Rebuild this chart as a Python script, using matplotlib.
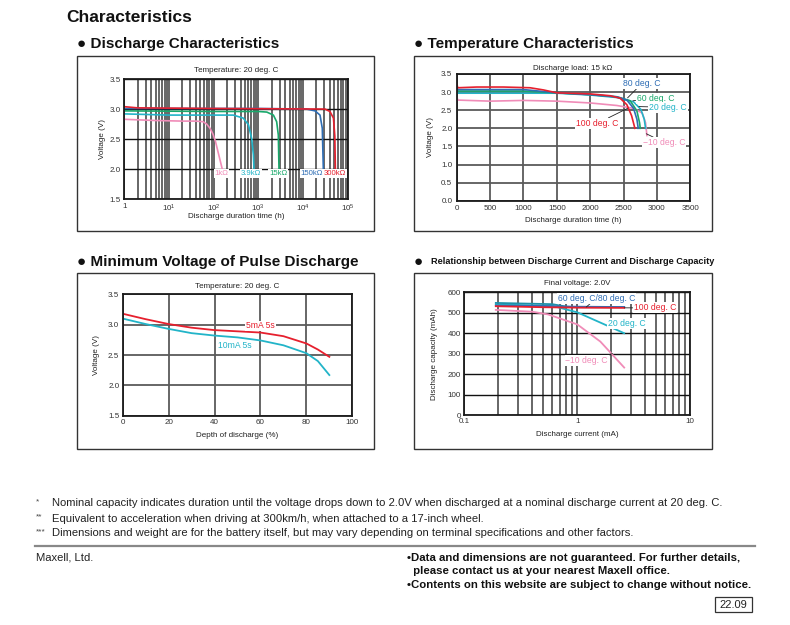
import numpy as np
import matplotlib.pyplot as plt
from matplotlib.patches import Rectangle
from matplotlib.ticker import NullFormatter

plt.rcParams['font.family'] = ['Liberation Sans', 'DejaVu Sans']
plt.rcParams['mathtext.default'] = 'regular'

W, H = 790, 625

# ---- Discharge characteristics (hours, V) ----
t_1k = [1, 5, 20, 40, 58, 70, 83, 97, 110, 130, 156]
v_1k = [2.83, 2.81, 2.80, 2.80, 2.79, 2.75, 2.68, 2.58, 2.46, 2.24, 2.0]
t_3k9 = [1, 10, 100, 275, 460, 600, 710, 775, 800]
v_3k9 = [2.92, 2.90, 2.90, 2.90, 2.85, 2.74, 2.51, 2.24, 2.0]
t_15k = [1, 100, 1000, 1550, 2170, 2570, 2800, 2900]
v_15k = [2.97, 2.96, 2.96, 2.95, 2.90, 2.79, 2.57, 2.0]
t_150k = [1, 1000, 12000, 18600, 24000, 27000, 28500]
v_150k = [3.01, 3.01, 3.0, 2.97, 2.90, 2.68, 2.0]
t_300k = [1, 2, 100, 31000, 40000, 48000, 51500, 53000]
v_300k = [3.04, 3.02, 3.01, 3.0, 2.96, 2.85, 2.55, 2.0]
load_labels = ["1kΩ", "3.9kΩ", "15kΩ", "150kΩ", "300kΩ"]
load_label_x = [150, 690, 2800, 15600, 52000]

# ---- Temperature characteristics (hours, V) ----
t_100c = [0, 15, 300, 700, 1100, 1300, 1500, 2000, 2300, 2450, 2550, 2620, 2670]
v_100c = [3.25, 3.12, 3.14, 3.14, 3.12, 3.06, 2.98, 2.95, 2.90, 2.83, 2.65, 2.35, 2.0]
t_80c = [0, 15, 1000, 1500, 2000, 2400, 2550, 2650, 2700, 2720]
v_80c = [3.15, 3.07, 3.07, 2.98, 2.93, 2.87, 2.78, 2.55, 2.25, 2.0]
t_60c = [0, 15, 1000, 1500, 2000, 2400, 2600, 2700, 2740, 2750]
v_60c = [3.10, 3.03, 3.03, 2.98, 2.93, 2.87, 2.76, 2.48, 2.15, 2.0]
t_20c = [0, 15, 1000, 1500, 2000, 2400, 2650, 2760, 2810, 2830]
v_20c = [3.05, 2.97, 2.97, 2.97, 2.92, 2.85, 2.73, 2.52, 2.25, 2.0]
t_m10c = [0, 15, 500, 1000, 1500, 2000, 2400, 2650, 2780, 2830, 2850]
v_m10c = [2.90, 2.78, 2.75, 2.77, 2.75, 2.70, 2.63, 2.55, 2.42, 2.15, 1.8]

# ---- Pulse discharge (% DOD, V) ----
dod = [0, 10, 20, 30, 40, 50, 60, 70, 80, 85, 90]
v_5ma = [3.18, 3.09, 3.01, 2.95, 2.91, 2.89, 2.87, 2.81, 2.69, 2.59, 2.47]
v_10ma = [3.10, 3.01, 2.93, 2.86, 2.82, 2.79, 2.74, 2.66, 2.53, 2.40, 2.17]

# ---- Current vs capacity (mA, mAh) ----
i_100c = [0.19, 0.5, 1.0, 2.6]
c_100c = [532, 527, 525, 524]
i_80c = [0.19, 0.5, 0.8, 2.6]
c_80c = [535, 533, 530, 528]
i_60c = [0.19, 0.6, 0.8, 1.0, 2.6]
c_60c = [548, 542, 530, 527, 527]
i_20c = [0.19, 0.61, 1.0, 2.6]
c_20c = [541, 533, 502, 400]
i_m10c = [0.19, 0.4, 0.55, 1.0, 1.6, 2.6]
c_m10c = [514, 505, 492, 443, 359, 232]

PINK = '#f08cb8'
CYAN = '#22b4c8'
GREEN = '#19a86b'
BLUE = '#2f6eb5'
RED = '#e6202e'
TEAL = '#1f8fa8'

fig = plt.figure(figsize=(W / 100, H / 100), dpi=100)


def px_axes(x0, y0, x1, y1):
    return fig.add_axes([x0 / W, 1 - y1 / H, (x1 - x0) / W, (y1 - y0) / H])


def px_text(x, y, s, **kw):
    return fig.text(x / W, 1 - y / H, s, **kw)


def frame(x0, y0, x1, y1):
    fig.add_artist(Rectangle((x0 / W, 1 - y1 / H), (x1 - x0) / W, (y1 - y0) / H,
                             transform=fig.transFigure, fill=False, lw=1.0, ec='#333333'))


def style(ax, pad=2.5):
    for s in ax.spines.values():
        s.set_linewidth(1.3)
        s.set_color('#1a1a1a')
    ax.tick_params(which='both', length=0, labelsize=5.8, colors='#333333', pad=pad)
    ax.set_axisbelow(True)


lab = dict(fontsize=5.8, color='#222222', ha='center', va='center')
box = dict(facecolor='white', edgecolor='none', pad=0.6)
arrow = dict(arrowstyle='-', color='#222222', lw=0.6, shrinkA=0, shrinkB=0)

# headings
px_text(66, 17, "Characteristics", fontsize=12.5, fontweight='bold', va='center', color='#111111')
for x, y, s in [(77, 44, "Discharge Characteristics"), (414, 44, "Temperature Characteristics"),
                (77, 262, "Minimum Voltage of Pulse Discharge")]:
    px_text(x, y, "● " + s, fontsize=11, fontweight='bold', va='center', color='#111111')
px_text(414, 262, "●", fontsize=11, fontweight='bold', va='center', color='#111111')
px_text(431, 262, "Relationship between Discharge Current and Discharge Capacity",
        fontsize=6.6, fontweight='bold', va='center', color='#111111')

frame(77, 56, 374, 231)
frame(414, 56, 712, 231)
frame(77, 273, 374, 449)
frame(414, 273, 712, 449)

# ---- panel 1 ----
ax1 = px_axes(124.3, 79, 347.7, 199.3)
style(ax1)
ax1.set_xscale('log')
ax1.set_xlim(1, 1e5)
ax1.set_ylim(1.5, 3.5)
ax1.set_yticks([1.5, 2.0, 2.5, 3.0, 3.5])
ax1.set_xticks([1, 10, 100, 1e3, 1e4, 1e5])
ax1.set_xticklabels(['1', '$10^{1}$', '$10^{2}$', '$10^{3}$', '$10^{4}$', '$10^{5}$'])
ax1.xaxis.set_minor_formatter(NullFormatter())
ax1.grid(True, axis='x', which='both', color='#5a5a5a', lw=1.3)
ax1.grid(True, axis='y', which='major', color='#111111', lw=1.0)
for t, v, c in [(t_1k, v_1k, PINK), (t_3k9, v_3k9, CYAN), (t_15k, v_15k, GREEN),
                (t_150k, v_150k, BLUE), (t_300k, v_300k, RED)]:
    ax1.plot(t, v, color=c, lw=1.2)
for s, x, c in zip(load_labels, load_label_x, [PINK, CYAN, GREEN, BLUE, RED]):
    ax1.text(x, 1.93, s, color=c, fontsize=5.6, ha='center', va='center', bbox=box)
px_text(236, 70, "Temperature: 20 deg. C", **lab)
px_text(236, 217, "Discharge duration time (h)", **lab)
px_text(102, 139, "Voltage (V)", rotation=90, **lab)

# ---- panel 2 ----
ax2 = px_axes(456.7, 74, 690.3, 200.7)
style(ax2, pad=3.2)
ax2.set_xlim(0, 3500)
ax2.set_ylim(0, 3.5)
ax2.set_xticks(np.arange(0, 3501, 500))
ax2.set_yticks(np.arange(0, 3.51, 0.5))
ax2.yaxis.set_major_formatter(lambda v, p: f"{v:.1f}")
ax2.grid(True, color='#5a5a5a', lw=1.3)
for t, v, c in [(t_m10c, v_m10c, PINK), (t_20c, v_20c, CYAN), (t_60c, v_60c, GREEN),
                (t_80c, v_80c, BLUE), (t_100c, v_100c, RED)]:
    ax2.plot(t, v, color=c, lw=1.2)
for s, xy, xt, c in [("80 deg. C", (2560, 2.84), (2775, 3.24), BLUE),
                     ("60 deg. C", (2640, 2.76), (2975, 2.83), GREEN),
                     ("20 deg. C", (2730, 2.60), (3165, 2.58), CYAN),
                     ("100 deg. C", (2560, 2.55), (2110, 2.14), RED),
                     ("−10 deg. C", (2840, 1.85), (3110, 1.61), PINK)]:
    ax2.annotate(s, xy=xy, xytext=xt, color=c, fontsize=6.2, ha='center', va='center',
                 bbox=box, arrowprops=arrow)
px_text(573, 68, "Discharge load: 15 kΩ", **lab)
px_text(573, 221, "Discharge duration time (h)", **lab)
px_text(430, 137, "Voltage (V)", rotation=90, **lab)

# ---- panel 3 ----
ax3 = px_axes(122.7, 294.3, 352.3, 415.7)
style(ax3)
ax3.set_xlim(0, 100)
ax3.set_ylim(1.5, 3.5)
ax3.set_xticks(np.arange(0, 101, 20))
ax3.set_yticks(np.arange(1.5, 3.51, 0.5))
ax3.grid(True, color='#5a5a5a', lw=1.3)
ax3.plot(dod, v_5ma, color=RED, lw=1.3)
ax3.plot(dod, v_10ma, color=CYAN, lw=1.3)
ax3.text(60, 2.98, "5mA 5s", color=RED, fontsize=6.2, ha='center', va='center', bbox=box)
ax3.text(49, 2.65, "10mA 5s", color=CYAN, fontsize=6.2, ha='center', va='center')
px_text(237.5, 286.7, "Temperature: 20 deg. C", **lab)
px_text(237.5, 435.5, "Depth of discharge (%)", **lab)
px_text(96.7, 355, "Voltage (V)", rotation=90, **lab)

# ---- panel 4 ----
ax4 = px_axes(464.3, 292.3, 690.3, 415)
style(ax4)
ax4.set_xscale('log')
ax4.set_xlim(0.1, 10)
ax4.set_ylim(0, 600)
ax4.set_xticks([0.1, 1, 10])
ax4.set_xticklabels(['0.1', '1', '10'])
ax4.xaxis.set_minor_formatter(NullFormatter())
ax4.set_yticks(np.arange(0, 601, 100))
ax4.grid(True, axis='x', which='both', color='#5a5a5a', lw=1.3)
ax4.grid(True, axis='y', which='major', color='#111111', lw=1.0)
for i, c_, col in [(i_m10c, c_m10c, PINK), (i_20c, c_20c, CYAN), (i_60c, c_60c, TEAL),
                   (i_80c, c_80c, BLUE), (i_100c, c_100c, RED)]:
    ax4.plot(i, c_, color=col, lw=1.3)
for s, xy, xt, c in [("60 deg. C/80 deg. C", (1.2, 528), (1.48, 571), BLUE),
                     ("−10 deg. C", (2.05, 300), (1.21, 266), PINK)]:
    ax4.annotate(s, xy=xy, xytext=xt, color=c, fontsize=6.2, ha='center', va='center',
                 bbox=box, arrowprops=arrow)
ax4.annotate("100 deg. C", xy=(2.6, 524), xytext=(3.15, 524), color=RED, fontsize=6.2,
             ha='left', va='center', bbox=box, arrowprops=arrow)
ax4.text(2.73, 448, "20 deg. C", color=CYAN, fontsize=6.2, ha='center', va='center', bbox=box)
px_text(577, 283.3, "Final voltage: 2.0V", **lab)
px_text(577, 434.5, "Discharge current (mA)", **lab)
px_text(434, 354, "Discharge capacity (mAh)", rotation=90, **lab)

# ---- footnotes ----
notes = [("*", "Nominal capacity indicates duration until the voltage drops down to 2.0V when discharged at a nominal discharge current at 20 deg. C."),
         ("**", "Equivalent to acceleration when driving at 300km/h, when attached to a 17-inch wheel."),
         ("***", "Dimensions and weight are for the battery itself, but may vary depending on terminal specifications and other factors.")]
for k, (m, s) in enumerate(notes):
    y = 503.5 + 15 * k
    px_text(36, y - 2, m, fontsize=6, va='center', color='#444444')
    px_text(52, y, s, fontsize=8.1, va='center', color='#222222')
fig.add_artist(plt.Line2D([35 / W, 755 / W], [1 - 545.5 / H, 1 - 545.5 / H],
                          transform=fig.transFigure, color='#888888', lw=1.6))
px_text(36, 558, "Maxell, Ltd.", fontsize=8.1, va='center', color='#222222')
for y, s in [(558, "•Data and dimensions are not guaranteed. For further details,"),
             (571, "  please contact us at your nearest Maxell office."),
             (585, "•Contents on this website are subject to change without notice.")]:
    px_text(407, y, s, fontsize=8.2, fontweight='bold', va='center', color='#111111')
px_text(733.5, 604.5, "22.09", fontsize=8, ha='center', va='center', color='#222222')
fig.add_artist(Rectangle((715 / W, 1 - 612 / H), 37 / W, 15 / H, transform=fig.transFigure,
                         fill=False, lw=0.9, ec='#333333'))

fig.savefig('out.png', dpi=100)
